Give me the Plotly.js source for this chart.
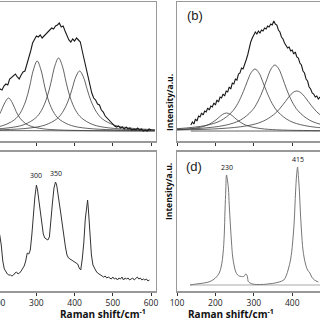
<!DOCTYPE html>
<html>
<head>
<meta charset="utf-8">
<script src="https://cdn.plot.ly/plotly-3.0.1.min.js"></script>
<style>
  html, body { margin: 0; padding: 0; width: 320px; height: 320px; overflow: hidden; background: #fff; }
  #fig { position: absolute; left: -80px; top: 0; width: 480px; height: 320px; }
</style>
</head>
<body>
<div id="fig"></div>
<script>
// ---- (a) measured spectrum and fitted components ----
const aShift = [200,205,210,215,220,225,230,235,240,245,250,255,260,265,270,275,280,285,290,295,300,305,310,315,320,325,330,335,340,345,350,355,360,365,370,375,380,385,390,395,400,405,410,415,420,425,430,435,440,445,450,455,460,465,470,475,480,485,490,495,500,505,510,515,520,525,530,535,540,545,550,555,560,565,570,575,580,585,590,595,600];
const aInt = [39,42,41,45,47,46,52,54,55,57,54,52,56,59,60,66,74,80,88,92,95,94,96,93,95,97,99,101,103,102,105,106,108,104,105,100,96,91,89,92,90,93,91,89,80,71,62,54,44,38,33,31,27,26,21,19,15,13,10,8,7,5,4,5,3,4,2,4,2,3,1,2,1,3,1,2,0,1,0,2,1];
const aFit1X = [100,137,167,182,197,207,217,227,237,247,257,272,287,317,357,427,520,610];
const aFit1Y = [1.1,2.2,4.6,7.3,12.9,19.5,28.1,33,28.1,19.5,12.9,7.3,4.6,2.2,1.1,0.46,0.2,0.13];
const aFit2X = [100,172,212,242,257,272,282,292,302,312,322,332,347,362,392,432,502,610];
const aFit2Y = [1.2,2.7,5.4,11.1,17.5,30,44,61,70,61,44,30,17.5,11.1,5.4,2.7,1.2,0.5];
const aFit3X = [100,158,228,268,298,313,328,338,348,358,368,378,388,403,418,448,488,558,610];
const aFit3Y = [0.85,1.4,3.2,6.4,13.1,20.4,34,48.3,64.8,73,64.8,48.3,34,20.4,13.1,6.4,3.2,1.4,0.9];
const aFit4X = [100,213,283,323,353,368,383,393,403,413,423,433,443,458,473,503,543,610];
const aFit4Y = [0.55,1.3,3.0,6,12,18.5,30,41.5,54,60,54,41.5,30,18.5,12,6,3.0,1.35];
const aBaseX = [100,610];
const aBaseY = [0.5,0];

// ---- (b) measured spectrum and fitted components ----
const bShift = [136,140,144,148,152,156,160,164,168,172,176,180,184,188,192,196,200,204,208,212,216,220,224,228,232,236,240,244,248,252,256,260,264,268,272,276,280,284,288,292,296,300,304,308,312,316,320,324,328,332,336,340,344,348,352,356,360,364,368,372,376,380,384,388,392,396,400,404,408,412,416,420,424,428,432,436,440,444,448,452,456,460,464,468,472,476,480];
const bInt = [6,9,7,12,10,15,14,18,16,20,19,23,21,25,24,28,26,31,29,34,33,37,35,40,39,44,42,48,47,52,51,57,58,63,62,68,71,76,84,89,93,96,99,97,100,98,101,100,103,102,105,104,107,106,110,107,106,101,99,94,92,88,86,83,84,80,81,77,79,74,73,68,66,60,58,52,50,44,42,38,37,34,35,32,34,30,31];
const bFit1X = [100,139,169,184,199,209,219,229,239,249,259,274,289,319,359,429,520,610];
const bFit1Y = [1.2,2.4,4.6,6.8,10.4,13.6,16.7,18,16.7,13.6,10.4,6.8,4.6,2.4,1.2,0.54,0.3,0.2];
const bFit2X = [100,173,213,243,258,273,283,293,303,313,323,333,348,363,393,433,503,610];
const bFit2Y = [2.3,5.4,10.2,19.1,27.3,39.7,49.6,58.3,62,58.3,49.6,39.7,27.3,19.1,10.2,5.4,2.4,1.0];
const bFit3X = [100,155,225,265,295,310,325,335,345,355,365,375,385,400,415,445,485,555,610];
const bFit3Y = [1.7,2.5,5.7,10.9,20.3,29.1,42.2,52.8,62.1,66,62.1,52.8,42.2,29.1,20.3,10.9,5.7,2.5,1.7];
const bFit4X = [100,212,282,322,352,367,382,392,402,412,422,432,442,457,472,502,542,610];
const bFit4Y = [1.0,2.4,5.2,9.4,16.4,22.1,29.4,34.5,38.5,40,38.5,34.5,29.4,22.1,16.4,9.4,5.2,2.4];
const bBaseX = [136,610];
const bBaseY = [0,0];

// ---- (c) spectrum ----
const cShift = [200,204,208,212,216,220,224,228,232,236,240,244,248,252,256,260,264,268,272,276,280,284,288,292,296,300,303,306,310,314,318,322,326,330,334,338,342,346,350,353,356,360,364,368,372,376,380,384,388,392,396,400,404,408,412,416,420,424,428,432,434,436,440,444,448,452,456,460,464,468,472,476,480,484,488,492,496,500,504,508,512,516,520,524,528,532,536,540,544,548,552,556,560,564,568,572,576,580,584,588,592,596];
const cInt = [52,46,36,20,12,9,7,6,6,5,6,8,9,7,8,10,12,15,20,28,27,31,46,66,84,96,91,82,70,57,47,43,42,41,44,58,78,93,99,96,89,80,67,56,44,34,26,23,22,21,20,19,18,17,13,11,22,38,62,80,81,72,42,26,16,12,10,8,7,6,5,4,5,3,4,3,2,4,2,3,1,3,2,4,1,3,2,3,1,2,3,1,3,4,2,3,1,2,1,2,0,1];
const cPeakPos = [300, 350];
const cPeakTxt = ['300', '350'];
const cPeakLblY = [105, 107];

// ---- (d) spectrum ----
const dShift = [134,150,170,186,200,210,216,220,223,225,227,228,229,230,232,234,236,239,242,245,249,253,258,262,268,274,279,282,284,285,288,293,298,308,318,332,348,366,378,384,390,396,401,405,407,409,411,413,414,415,417,419,421,424,428,434,440,446,451,458,468,486];
const dInt = [0,1,2,3.5,7,12,20,32,50,75,95,107,110,108,103,96,80,60,42,28,19,13,10,9,8.5,8.5,11,10,7,4,2.5,1.5,0.8,0.5,0.5,0.8,1.5,3,5,9,16,26,42,62,78,95,108,116,118,114,104,92,75,55,35,22,15,12,8,5,3];
const dBaseX = [134,610];
const dBaseY = [0,0];
const dPeakPos = [230, 415];
const dPeakTxt = ['230', '415'];
const dPeakLblY = [117, 125];

const shiftTicks = [100,200,300,400,500,600];
const shiftRange = [100, 613];

const specColor = '#1a1a1a';
const fitColor = '#3c3c3c';

function line(x, y, xa, ya, color, width, spline) {
  return { x: x, y: y, xaxis: xa, yaxis: ya, type: 'scatter', mode: 'lines',
           line: { color: color, width: width, shape: spline ? 'spline' : 'linear', smoothing: 1 },
           hoverinfo: 'skip', showlegend: false };
}

const traces = [
  line(aBaseX, aBaseY, 'x', 'y', fitColor, 0.8, false),
  line(aFit1X, aFit1Y, 'x', 'y', fitColor, 0.8, true),
  line(aFit2X, aFit2Y, 'x', 'y', fitColor, 0.8, true),
  line(aFit3X, aFit3Y, 'x', 'y', fitColor, 0.8, true),
  line(aFit4X, aFit4Y, 'x', 'y', fitColor, 0.8, true),
  line(aShift, aInt, 'x', 'y', specColor, 1.1, false),

  line(bBaseX, bBaseY, 'x2', 'y2', fitColor, 0.8, false),
  line(bFit1X, bFit1Y, 'x2', 'y2', fitColor, 0.8, true),
  line(bFit2X, bFit2Y, 'x2', 'y2', fitColor, 0.8, true),
  line(bFit3X, bFit3Y, 'x2', 'y2', fitColor, 0.8, true),
  line(bFit4X, bFit4Y, 'x2', 'y2', fitColor, 0.8, true),
  line(bShift, bInt, 'x2', 'y2', specColor, 1.1, false),

  line(cShift, cInt, 'x3', 'y3', '#333', 1, false),

  line(dBaseX, dBaseY, 'x4', 'y4', '#aaa', 1.2, false),
  line(dShift, dInt, 'x4', 'y4', '#777', 1, true)
];

const tickFont = { family: 'Open Sans, sans-serif', size: 8.5, color: '#222' };
const titleFont = { family: 'Open Sans, sans-serif', size: 10, color: '#111', weight: 'bold' };

function xAxis(domain, anchor, labels) {
  return {
    domain: domain, anchor: anchor, range: shiftRange,
    tickmode: 'array', tickvals: shiftTicks, ticktext: shiftTicks.map(String),
    showticklabels: labels, ticks: 'outside', ticklen: 3, tickwidth: 1, tickcolor: '#333',
    ticklabelstandoff: 0,
    showline: true, mirror: true, linecolor: '#999', linewidth: 1.5,
    showgrid: false, zeroline: false, tickfont: tickFont, fixedrange: true
  };
}
function yAxis(domain, anchor, range) {
  return {
    domain: domain, anchor: anchor, range: range,
    showticklabels: false, ticks: '', showline: true, mirror: true,
    linecolor: '#999', linewidth: 1.5, showgrid: false, zeroline: false, fixedrange: true
  };
}

const leftDom = [0, 0.4734];
const rightDom = [0.5242, 1];
const topDom = [0.519, 1];
const botDom = [0, 0.481];

const annFont = { family: 'Open Sans, sans-serif', size: 7, color: '#111' };
const annotations = [];
cPeakPos.forEach((p, i) => annotations.push({ x: p, y: cPeakLblY[i], xref: 'x3', yref: 'y3', text: cPeakTxt[i], showarrow: false, font: annFont }));
dPeakPos.forEach((p, i) => annotations.push({ x: p, y: dPeakLblY[i], xref: 'x4', yref: 'y4', text: dPeakTxt[i], showarrow: false, font: annFont }));
annotations.push({ x: 147, y: 116, xref: 'x2', yref: 'y2', text: '(b)', showarrow: false, font: { family: 'Liberation Sans, Arial, sans-serif', size: 13, color: '#222' } });
annotations.push({ x: 144, y: 118, xref: 'x4', yref: 'y4', text: '(d)', showarrow: false, font: { family: 'Liberation Sans, Arial, sans-serif', size: 13, color: '#222' } });

// axis titles
const yTitleFont = { family: 'Open Sans, sans-serif', size: 8.5, color: '#111', weight: 'bold' };
annotations.push({ x: 0.5048, y: 0.7595, xref: 'paper', yref: 'paper', text: 'Intensity/a.u.', textangle: -90, showarrow: false, font: yTitleFont });
annotations.push({ x: 0.5048, y: 0.2405, xref: 'paper', yref: 'paper', text: 'Intensity/a.u.', textangle: -90, showarrow: false, font: yTitleFont });
const xTitleY = -0.078;
annotations.push({ x: (leftDom[0] + leftDom[1]) / 2, y: xTitleY, xref: 'paper', yref: 'paper', yanchor: 'middle', text: 'Raman shift/cm<sup>-1</sup>', showarrow: false, font: titleFont });
annotations.push({ x: (rightDom[0] + rightDom[1]) / 2, y: xTitleY, xref: 'paper', yref: 'paper', yanchor: 'middle', text: 'Raman shift/cm<sup>-1</sup>', showarrow: false, font: titleFont });

const layout = {
  width: 480, height: 320,
  margin: { l: 40, r: 26, t: 2, b: 29 },
  paper_bgcolor: '#fff', plot_bgcolor: '#fff',
  showlegend: false,
  xaxis: xAxis(leftDom, 'y', false),
  yaxis: yAxis(topDom, 'x', [-10, 129]),
  xaxis2: xAxis(rightDom, 'y2', false),
  yaxis2: yAxis(topDom, 'x2', [-10, 129]),
  xaxis3: xAxis(leftDom, 'y3', true),
  yaxis3: yAxis(botDom, 'x3', [-10, 129]),
  xaxis4: xAxis(rightDom, 'y4', true),
  yaxis4: yAxis(botDom, 'x4', [-6, 133]),
  annotations: annotations
};

Plotly.newPlot('fig', traces, layout, { staticPlot: true, displayModeBar: false });
</script>
</body>
</html>
